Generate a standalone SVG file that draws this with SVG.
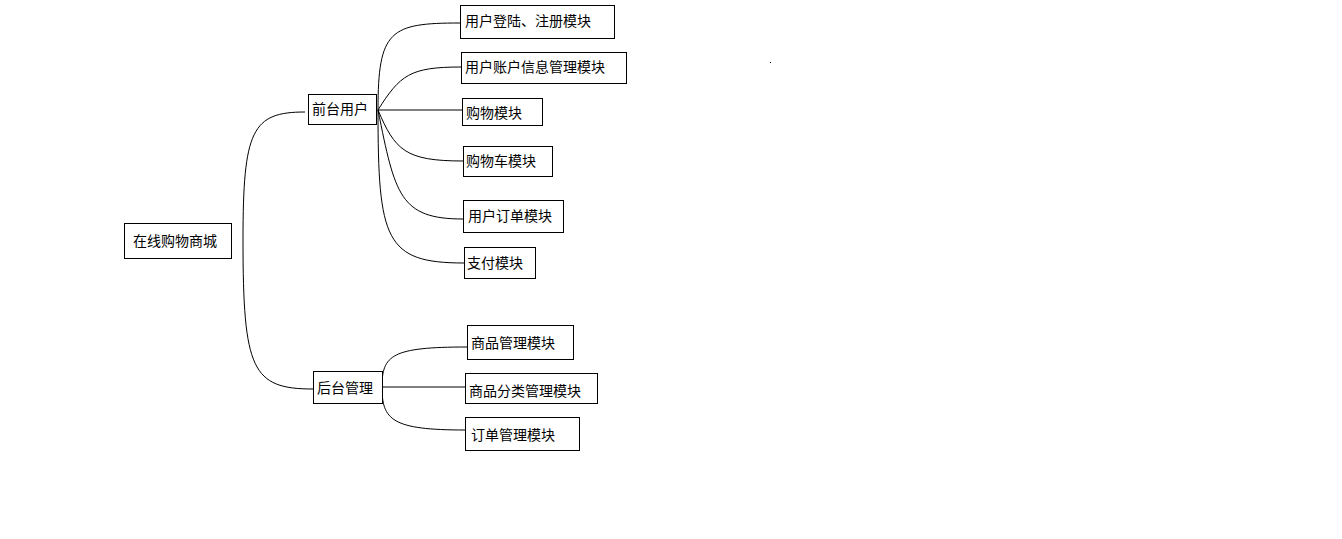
<svg xmlns="http://www.w3.org/2000/svg" width="1342" height="539" viewBox="0 0 1342 539">
<style>
rect{fill:#fff;stroke:#000;stroke-width:1}
text{font-family:"Noto Sans CJK SC","Liberation Sans",sans-serif;font-size:14px;fill:#000}
.c path{fill:none;stroke:#000;stroke-width:1}
</style>
<rect x="0" y="0" width="1342" height="539" style="stroke:none"/>
<g class="c" id="connectors">
<path d="M243,240 C243,130 252,112 305,112"/>
<path d="M243,240 C243,370 252,389 313,389"/>
<path d="M378,110 C378,30 390,23 460,23"/>
<path d="M378,110 C400,75 410,67 461,67"/>
<path d="M378,110 L462,110"/>
<path d="M378,110 C395,150 405,161 463,161"/>
<path d="M378,110 C395,195 400,219 463,219"/>
<path d="M378,110 C378,240 385,263 464,263"/>
<path d="M382,387 C382,355 392,347 467,347"/>
<path d="M382,387 L465,387"/>
<path d="M382,387 C382,420 392,430 465,430"/>
</g>
<g id="root"><rect x="124.5" y="223.5" width="107" height="35"/><text x="133" y="246">在线购物商城</text></g>
<g id="front"><rect x="308.5" y="94.5" width="68" height="30"/><text x="312" y="114">前台用户</text></g>
<g id="back"><rect x="313.5" y="371.5" width="69" height="32"/><text x="317" y="393">后台管理</text></g>
<g id="n1"><rect x="460.5" y="5.5" width="154" height="33"/><text x="465" y="26">用户登陆、注册模块</text></g>
<g id="n2"><rect x="461.5" y="52.5" width="165" height="31"/><text x="465" y="72">用户账户信息管理模块</text></g>
<g id="n3"><rect x="462.5" y="98.5" width="80" height="27"/><text x="466" y="118">购物模块</text></g>
<g id="n4"><rect x="463.5" y="146.5" width="89" height="30"/><text x="466" y="166">购物车模块</text></g>
<g id="n5"><rect x="463.5" y="200.5" width="100" height="32"/><text x="468" y="221">用户订单模块</text></g>
<g id="n6"><rect x="464.5" y="247.5" width="71" height="31"/><text x="467" y="268">支付模块</text></g>
<g id="n7"><rect x="467.5" y="325.5" width="106" height="34"/><text x="471" y="348">商品管理模块</text></g>
<g id="n8"><rect x="465.5" y="373.5" width="132" height="30"/><text x="469" y="396">商品分类管理模块</text></g>
<g id="n9"><rect x="465.5" y="417.5" width="114" height="33"/><text x="471" y="440">订单管理模块</text></g>
<rect x="770" y="62" width="1" height="1" style="fill:#000;stroke:none"/>
</svg>
